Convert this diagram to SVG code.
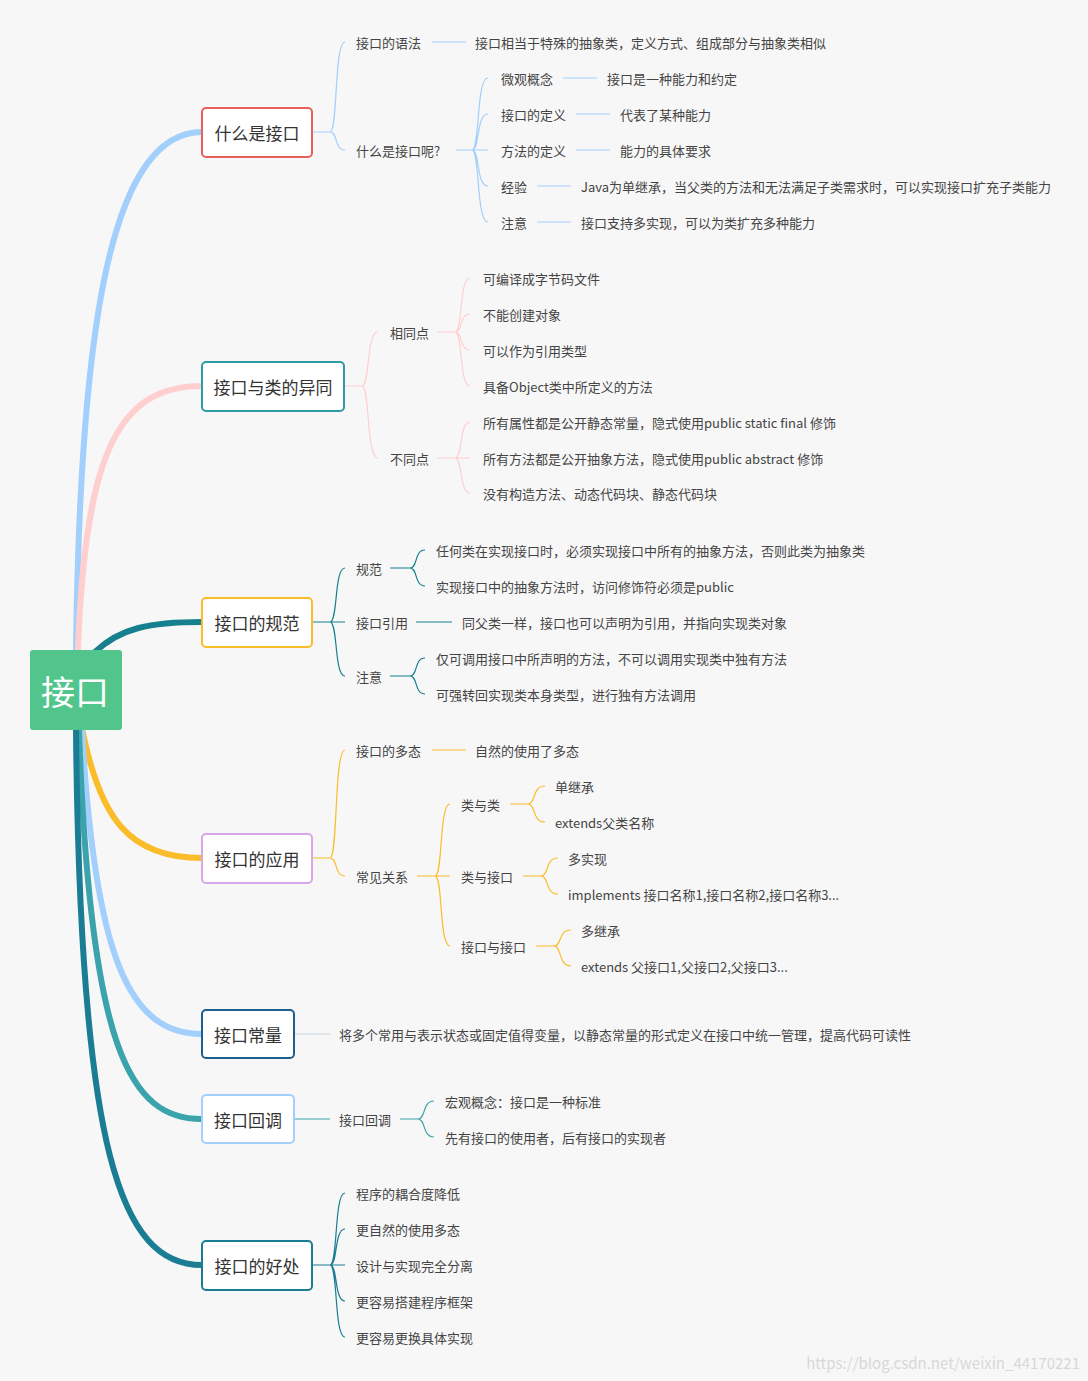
<svg xmlns="http://www.w3.org/2000/svg" width="1088" height="1381" viewBox="0 0 1088 1381">
<style>
text{font-family:"Noto Sans CJK SC","Noto Sans",sans-serif;fill:#444;dominant-baseline:central}
.t{font-size:13px}
.m{font-size:17px;fill:#333}
.n{fill:#fff;rx:4px;stroke-width:2}
path{fill:none}
.c1{stroke:#a3cffc}.c2{stroke:#ffcfcf}.c3{stroke:#16808f}.c4{stroke:#fbbc2a}.c6{stroke:#3aa3ab}.c7{stroke:#1b7d94}
.thin path{stroke-width:1.2}
</style>
<rect width="1088" height="1381" fill="#f7f7f7"/>
<g id="connectors">
<g stroke-width="6" stroke-linecap="round">
<path class="c1" d="M76,650 C80,330 110,132 202,132"/>
<path class="c2" d="M78,650 C85,450 120,386 202,386"/>
<path class="c3" d="M95,652 C120,628 150,622 202,622"/>
<path class="c4" d="M82,728 C100,820 130,858 202,858"/>
<path class="c1" d="M82,730 C95,960 130,1034 202,1034"/>
<path class="c6" d="M79,730 C90,1050 130,1119 202,1119"/>
<path class="c7" d="M76,730 C80,1150 120,1265 202,1265"/>
</g>
<g class="thin">
<!-- node1 -->
<path class="c1" d="M312,132 H330 M330,132 C338,132 334,42 345,42 M330,132 C338,132 334,150 345,150"/>
<path class="c1" d="M432,42 H466 M456,150 H472 M472,150 C480,150 476,78 488,78 M472,150 C480,150 476,114 488,114 M472,150 H488 M472,150 C480,150 476,186 488,186 M472,150 C480,150 476,222 488,222"/>
<path class="c1" d="M563,78 H597 M576,114 H610 M576,150 H610 M537,186 H571 M537,222 H571"/>
<!-- node2 -->
<path class="c2" d="M344,386 H362 M362,386 C370,386 366,332 378,332 M362,386 C370,386 366,458 378,458"/>
<path class="c2" d="M437,332 H455 M455,332 C463,332 459,278 470,278 M455,332 C463,332 459,314 470,314 M455,332 C463,332 459,350 470,350 M455,332 C463,332 459,386 470,386"/>
<path class="c2" d="M437,458 H455 M455,458 C463,458 459,422 470,422 M455,458 H470 M455,458 C463,458 459,493 470,493"/>
<!-- node3 -->
<path class="c3" d="M312,622 H330 M330,622 C338,622 334,568 345,568 M330,622 H345 M330,622 C338,622 334,676 345,676"/>
<path class="c3" d="M390,568 H410 M410,568 C418,568 414,550 425,550 M410,568 C418,568 414,586 425,586 M416,622 H452 M390,676 H410 M410,676 C418,676 414,658 425,658 M410,676 C418,676 414,694 425,694"/>
<!-- node4 -->
<path class="c4" d="M312,858 H330 M330,858 C338,858 334,750 345,750 M330,858 C338,858 334,876 345,876 M432,750 H466"/>
<path class="c4" d="M417,876 H435 M435,876 C443,876 439,804 450,804 M435,876 H450 M435,876 C443,876 439,946 450,946"/>
<path class="c4" d="M510,804 H528 M528,804 C536,804 532,786 545,786 M528,804 C536,804 532,822 545,822"/>
<path class="c4" d="M523,876 H541 M541,876 C549,876 545,858 558,858 M541,876 C549,876 545,894 558,894"/>
<path class="c4" d="M536,946 H554 M554,946 C562,946 558,930 571,930 M554,946 C562,946 558,966 571,966"/>
<!-- node5 -->
<path stroke="#c8d6e0" d="M294,1034 H330"/>
<!-- node6 -->
<path class="c6" d="M294,1119 H330 M400,1119 H418 M418,1119 C426,1119 422,1101 434,1101 M418,1119 C426,1119 422,1137 434,1137"/>
<!-- node7 -->
<path class="c7" d="M312,1265 H330 M330,1265 C338,1265 334,1193 345,1193 M330,1265 C338,1265 334,1229 345,1229 M330,1265 H345 M330,1265 C338,1265 334,1301 345,1301 M330,1265 C338,1265 334,1337 345,1337"/>
</g>
</g>
<g id="root"><rect x="30" y="650" width="92" height="80" rx="3" fill="#52c58c"/><text x="75" y="690" text-anchor="middle" style="font-size:34px;fill:#fff">接口</text></g>
<g id="n1"><rect class="n" x="202" y="108" width="110" height="49" stroke="#e9605a"/><text class="m" x="257" y="132" text-anchor="middle">什么是接口</text>
<text class="t" x="356" y="42">接口的语法</text><text class="t" x="475" y="42">接口相当于特殊的抽象类，定义方式、组成部分与抽象类相似</text>
<text class="t" x="356" y="150">什么是接口呢?</text>
<text class="t" x="501" y="78">微观概念</text><text class="t" x="607" y="78">接口是一种能力和约定</text>
<text class="t" x="501" y="114">接口的定义</text><text class="t" x="620" y="114">代表了某种能力</text>
<text class="t" x="501" y="150">方法的定义</text><text class="t" x="620" y="150">能力的具体要求</text>
<text class="t" x="501" y="186">经验</text><text class="t" x="581" y="186">Java为单继承，当父类的方法和无法满足子类需求时，可以实现接口扩充子类能力</text>
<text class="t" x="501" y="222">注意</text><text class="t" x="581" y="222">接口支持多实现，可以为类扩充多种能力</text></g>
<g id="n2"><rect class="n" x="202" y="362" width="142" height="49" stroke="#2e9ca5"/><text class="m" x="273" y="386" text-anchor="middle">接口与类的异同</text>
<text class="t" x="390" y="332">相同点</text><text class="t" x="390" y="458">不同点</text>
<text class="t" x="483" y="278">可编译成字节码文件</text><text class="t" x="483" y="314">不能创建对象</text><text class="t" x="483" y="350">可以作为引用类型</text><text class="t" x="483" y="386">具备Object类中所定义的方法</text>
<text class="t" x="483" y="422">所有属性都是公开静态常量，隐式使用public static final 修饰</text><text class="t" x="483" y="458">所有方法都是公开抽象方法，隐式使用public abstract 修饰</text><text class="t" x="483" y="493">没有构造方法、动态代码块、静态代码块</text></g>
<g id="n3"><rect class="n" x="202" y="598" width="110" height="49" stroke="#fbbc2a"/><text class="m" x="257" y="622" text-anchor="middle">接口的规范</text>
<text class="t" x="356" y="568">规范</text><text class="t" x="356" y="622">接口引用</text><text class="t" x="356" y="676">注意</text>
<text class="t" x="436" y="550">任何类在实现接口时，必须实现接口中所有的抽象方法，否则此类为抽象类</text><text class="t" x="436" y="586">实现接口中的抽象方法时，访问修饰符必须是public</text>
<text class="t" x="462" y="622">同父类一样，接口也可以声明为引用，并指向实现类对象</text>
<text class="t" x="436" y="658">仅可调用接口中所声明的方法，不可以调用实现类中独有方法</text><text class="t" x="436" y="694">可强转回实现类本身类型，进行独有方法调用</text></g>
<g id="n4"><rect class="n" x="202" y="834" width="110" height="49" stroke="#d9a6ea"/><text class="m" x="257" y="858" text-anchor="middle">接口的应用</text>
<text class="t" x="356" y="750">接口的多态</text><text class="t" x="475" y="750">自然的使用了多态</text>
<text class="t" x="356" y="876">常见关系</text>
<text class="t" x="461" y="804">类与类</text><text class="t" x="461" y="876">类与接口</text><text class="t" x="461" y="946">接口与接口</text>
<text class="t" x="555" y="786">单继承</text><text class="t" x="555" y="822">extends父类名称</text>
<text class="t" x="568" y="858">多实现</text><text class="t" x="568" y="894">implements 接口名称1,接口名称2,接口名称3...</text>
<text class="t" x="581" y="930">多继承</text><text class="t" x="581" y="966">extends 父接口1,父接口2,父接口3...</text></g>
<g id="n5"><rect class="n" x="202" y="1010" width="92" height="48" stroke="#1b5e8f"/><text class="m" x="248" y="1034" text-anchor="middle">接口常量</text>
<text class="t" x="339" y="1034">将多个常用与表示状态或固定值得变量，以静态常量的形式定义在接口中统一管理，提高代码可读性</text></g>
<g id="n6"><rect class="n" x="202" y="1095" width="92" height="48" stroke="#a3cffc"/><text class="m" x="248" y="1119" text-anchor="middle">接口回调</text>
<text class="t" x="339" y="1119">接口回调</text><text class="t" x="445" y="1101">宏观概念：接口是一种标准</text><text class="t" x="445" y="1137">先有接口的使用者，后有接口的实现者</text></g>
<g id="n7"><rect class="n" x="202" y="1241" width="110" height="49" stroke="#1b7d94"/><text class="m" x="257" y="1265" text-anchor="middle">接口的好处</text>
<text class="t" x="356" y="1193">程序的耦合度降低</text><text class="t" x="356" y="1229">更自然的使用多态</text><text class="t" x="356" y="1265">设计与实现完全分离</text><text class="t" x="356" y="1301">更容易搭建程序框架</text><text class="t" x="356" y="1337">更容易更换具体实现</text></g>
<text x="1080" y="1362" text-anchor="end" style="font-size:15px;fill:#d8d8d8">https://blog.csdn.net/weixin_44170221</text>
</svg>
